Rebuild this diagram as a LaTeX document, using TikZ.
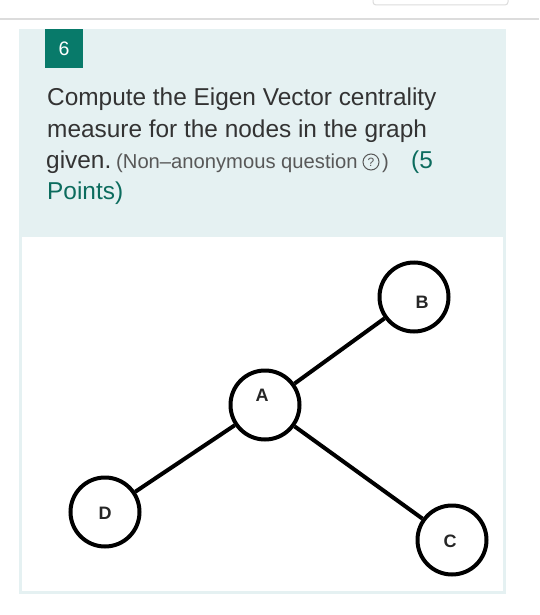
\documentclass[tikz,border=0pt]{standalone}
\usepackage{fontspec}
\setmainfont{Liberation Sans}
\usetikzlibrary{positioning}

\definecolor{panelbg}{RGB}{229,241,242}
\definecolor{badge}{RGB}{8,122,106}
\definecolor{pointsteal}{RGB}{12,108,94}
\definecolor{bodytext}{RGB}{51,51,51}
\definecolor{softtext}{RGB}{88,88,88}
\definecolor{rulegrey}{RGB}{220,220,220}

\begin{document}
\begin{tikzpicture}[
        x=1pt, y=-1pt,
        vertex/.style={circle, draw=black, line width=4pt, fill=white, minimum size=69pt, inner sep=0pt},
        vlabel/.style={font=\fontsize{18}{18}\selectfont\bfseries, text=black!85},
        edge/.style={line width=4pt, black},
        qtext/.style={anchor=base west, inner sep=0pt, text=bodytext, font=\fontsize{24.4}{31}\selectfont},
        smalltext/.style={anchor=base west, inner sep=0pt, text=softtext, font=\fontsize{20.2}{24}\selectfont},
        helpicon/.style={circle, draw=softtext, line width=1pt, text=softtext, minimum size=16pt, inner sep=0pt, font=\fontsize{12}{12}\selectfont}
        ]
        \useasboundingbox (0,0) rectangle (539,615);
        \fill[white] (0,0) rectangle (539,615);
        % header strip
        \draw[rulegrey, line width=1.5pt] (0,19) -- (539,19);
        \draw[rulegrey, line width=1pt, rounded corners=3pt] (373,-10) rectangle (508,5);
        % question card
        \fill[panelbg] (19,29) rectangle (506,594);
        \fill[white] (22,237) rectangle (503,591);
        \node[fill=badge, text=white, minimum width=38pt, minimum height=39pt, inner sep=0pt,
              font=\fontsize{19.5}{19.5}\selectfont] (num) at (64,48.5) {6};
        \node[qtext] (line1) at (47,106) {Compute the Eigen Vector centrality};
        \node[qtext] (line2) at (47,137) {measure for the nodes in the graph};
        \node[qtext] (line3) at (46,168) {given.};
        \node[smalltext] (anon) at (116,168) {(Non–anonymous question};
        \node[helpicon] (help) at (371,162) {?};
        \node[smalltext] (close) at (382,168) {)};
        \node[qtext, text=pointsteal] (pts) at (411,168) {(5};
        \node[qtext, text=pointsteal] (line4) at (47,199) {Points)};
        % graph
        \foreach \n/\x/\y/\dx/\dy in {A/265/405/-3/10, B/414/297/8/-5, C/452/540/-2/-1, D/105/512/0/-1} {
            \node[vertex, label={[vlabel, xshift=\dx pt, yshift=\dy pt]center:\n}] (\n) at (\x,\y) {};
        }
        \foreach \u/\v in {A/B, A/C, A/D} {
            \draw[edge] (\u) -- (\v);
        }
    \end{tikzpicture}
\end{document}
